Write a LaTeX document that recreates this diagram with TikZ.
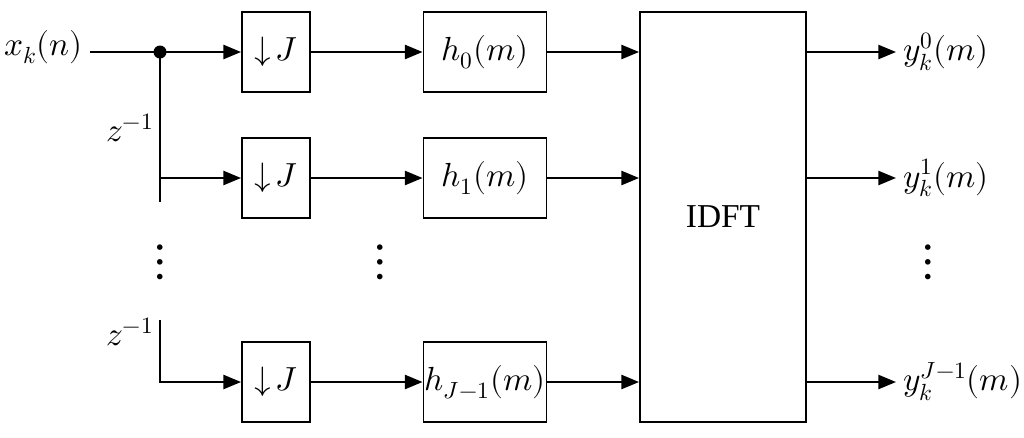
\documentclass[tikz,border=0pt]{standalone}
\usepackage{fontspec}
\setmainfont{Liberation Serif}
\usepackage{unicode-math}
\setmathfont{Latin Modern Math}
\usetikzlibrary{arrows.meta,positioning}
\begin{document}
\begin{tikzpicture}[x=0.02cm,y=-0.02cm,
  every node/.style={font=\fontsize{19}{22}\selectfont},
  blk/.style={draw,line width=1.1pt,minimum width=1.36cm,minimum height=1.6cm,inner sep=0pt},
  hblk/.style={blk,minimum width=2.46cm},
  sig/.style={line width=1.1pt,-{Triangle[length=10pt,width=8pt]}},
  ln/.style={line width=1.1pt},
  dts/.style={font=\fontsize{30}{30}\bfseries\selectfont}]
\useasboundingbox (0,0) rectangle (1024,437);
\node[anchor=west,inner sep=0pt] (xin) at (4,47) {$x_k(n)$};
\coordinate (tap) at (160,52);
\fill (tap) circle (6.5);
% rows
\foreach \y/\i/\lab in {52/0/{h_0(m)},178/1/{h_1(m)},382/2/{h_{J-1}(m)}}
{
  \node[blk] (dec\i) at (276,\y) {$\downarrow\! J$};
  \node[hblk] (h\i) at (485,\y) {$\lab$};
  \draw[sig] (dec\i) -- (h\i);
}
\node[draw,line width=1.1pt,minimum width=3.32cm,minimum height=8.2cm,inner sep=0pt] (idft) at (723,217) {IDFT};
\coordinate (xs) at (90,52);
\draw[ln] (xs) -- (tap);
\draw[sig] (tap) -- (dec0);
\coordinate (d1) at (160,202);
\draw[ln] (tap) -- (d1);
\coordinate (c1) at (160,178);
\draw[sig] (c1) -- (dec1);
\coordinate (d2) at (160,320);
\coordinate (c2) at (160,382);
\draw[sig] (d2) -- (c2) -- (dec2);
\node (z1) at (130,128) {$z^{-1}$};
\node (z2) at (130,332) {$z^{-1}$};
\foreach \i in {0,1,2}
  \draw[sig] (h\i.east) -- (idft.west |- h\i);
\foreach \i/\y/\lab in {0/52/{y_k^0(m)},1/178/{y_k^1(m)},2/382/{y_k^{J-1}(m)}}
{
  \coordinate (o\i) at (896,\y);
  \draw[sig] (idft.east |- o\i) -- (o\i);
  \node[anchor=west,inner sep=0pt] (y\i) at (903,\y) {$\lab$};
}
\node[dts] (v1) at (160,262) {$\vdots$};
\node[dts] (v2) at (380,262) {$\vdots$};
\node[dts] (v3) at (928,262) {$\vdots$};
\end{tikzpicture}
\end{document}
